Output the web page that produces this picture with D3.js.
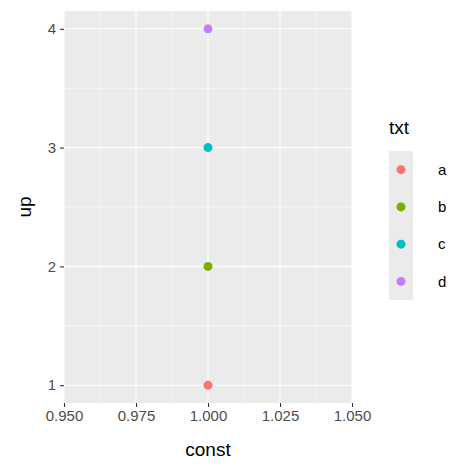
<!DOCTYPE html>
<html><head><meta charset="utf-8">
<script src="https://cdn.jsdelivr.net/npm/d3@7"></script>
<style>body{margin:0;background:#fff}text{font-family:"Liberation Sans",Arial,sans-serif}</style>
</head><body><div id="chart"></div>
<script>
const txt = ["a", "b", "c", "d"];
const up = [1, 2, 3, 4];
const constVal = [1, 1, 1, 1];
const xTicks = [0.95, 0.975, 1.0, 1.025, 1.05];
const yTicks = [1, 2, 3, 4];
const colors = ["#F8766D", "#7CAE00", "#00BFC4", "#C77CFF"];

const W = 474, H = 474;
const panel = {left: 64, right: 352, top: 11, bottom: 403};

const svg = d3.select("#chart").append("svg").attr("width", W).attr("height", H);

const x = d3.scaleLinear().domain([0.95, 1.05]).range([panel.left, panel.right]);
const y = d3.scaleLinear().domain([0.85, 4.15]).range([panel.bottom, panel.top]);
const color = d3.scaleOrdinal().domain(txt).range(colors);

svg.append("rect").attr("x", panel.left).attr("y", panel.top)
  .attr("width", panel.right - panel.left).attr("height", panel.bottom - panel.top)
  .attr("fill", "#EBEBEB");

// minor grid
const xMinor = xTicks.slice(1).map((v, i) => (v + xTicks[i]) / 2);
const yMinor = yTicks.slice(1).map((v, i) => (v + yTicks[i]) / 2);
svg.selectAll(".xminor").data(xMinor).join("line")
  .attr("x1", d => x(d)).attr("x2", d => x(d)).attr("y1", panel.top).attr("y2", panel.bottom)
  .attr("stroke", "#fff").attr("stroke-width", 0.55);
svg.selectAll(".yminor").data(yMinor).join("line")
  .attr("y1", d => y(d)).attr("y2", d => y(d)).attr("x1", panel.left).attr("x2", panel.right)
  .attr("stroke", "#fff").attr("stroke-width", 0.55);
// major grid
svg.selectAll(".xmajor").data(xTicks).join("line")
  .attr("x1", d => x(d)).attr("x2", d => x(d)).attr("y1", panel.top).attr("y2", panel.bottom)
  .attr("stroke", "#fff").attr("stroke-width", 1.1);
svg.selectAll(".ymajor").data(yTicks).join("line")
  .attr("y1", d => y(d)).attr("y2", d => y(d)).attr("x1", panel.left).attr("x2", panel.right)
  .attr("stroke", "#fff").attr("stroke-width", 1.1);

// axes
const xAxis = svg.append("g").attr("transform", `translate(0,${panel.bottom})`)
  .call(d3.axisBottom(x).tickValues(xTicks).tickFormat(d3.format(".3f")).tickSize(4).tickPadding(3));
const yAxis = svg.append("g").attr("transform", `translate(${panel.left},0)`)
  .call(d3.axisLeft(y).tickValues(yTicks).tickFormat(d3.format("d")).tickSize(4).tickPadding(4));
[xAxis, yAxis].forEach(a => {
  a.attr("font-size", 15).attr("font-family", null);
  a.select(".domain").remove();
  a.selectAll("line").attr("stroke", "#333").attr("stroke-width", 1.1);
  a.selectAll("text").attr("fill", "#4D4D4D");
});

// points
svg.selectAll(".pt").data(txt).join("circle")
  .attr("cx", (d, i) => x(constVal[i])).attr("cy", (d, i) => y(up[i]))
  .attr("r", 4.5).attr("fill", d => color(d));

// axis titles
svg.append("text").attr("x", (panel.left + panel.right) / 2).attr("y", 456)
  .attr("text-anchor", "middle").style("font-size", "19px").text("const");
svg.append("text").attr("transform", `translate(31,${(panel.top + panel.bottom) / 2}) rotate(-90)`)
  .attr("text-anchor", "middle").style("font-size", "19px").text("up");

// legend
const lg = svg.append("g").attr("transform", "translate(389,0)");
lg.append("text").attr("x", 0).attr("y", 134).style("font-size", "19px").text("txt");
lg.append("rect").attr("x", 0).attr("y", 151).attr("width", 24).attr("height", 149).attr("fill", "#EBEBEB");
const keyH = 149 / txt.length;
const key = lg.selectAll(".key").data(txt).join("g")
  .attr("transform", (d, i) => `translate(0,${151 + keyH * i + keyH / 2})`);
key.append("circle").attr("cx", 12).attr("r", 4.5).attr("fill", d => color(d));
key.append("text").attr("x", 49).attr("dy", "0.35em").style("font-size", "15px").attr("fill", "#000").text(d => d);
</script></body></html>
